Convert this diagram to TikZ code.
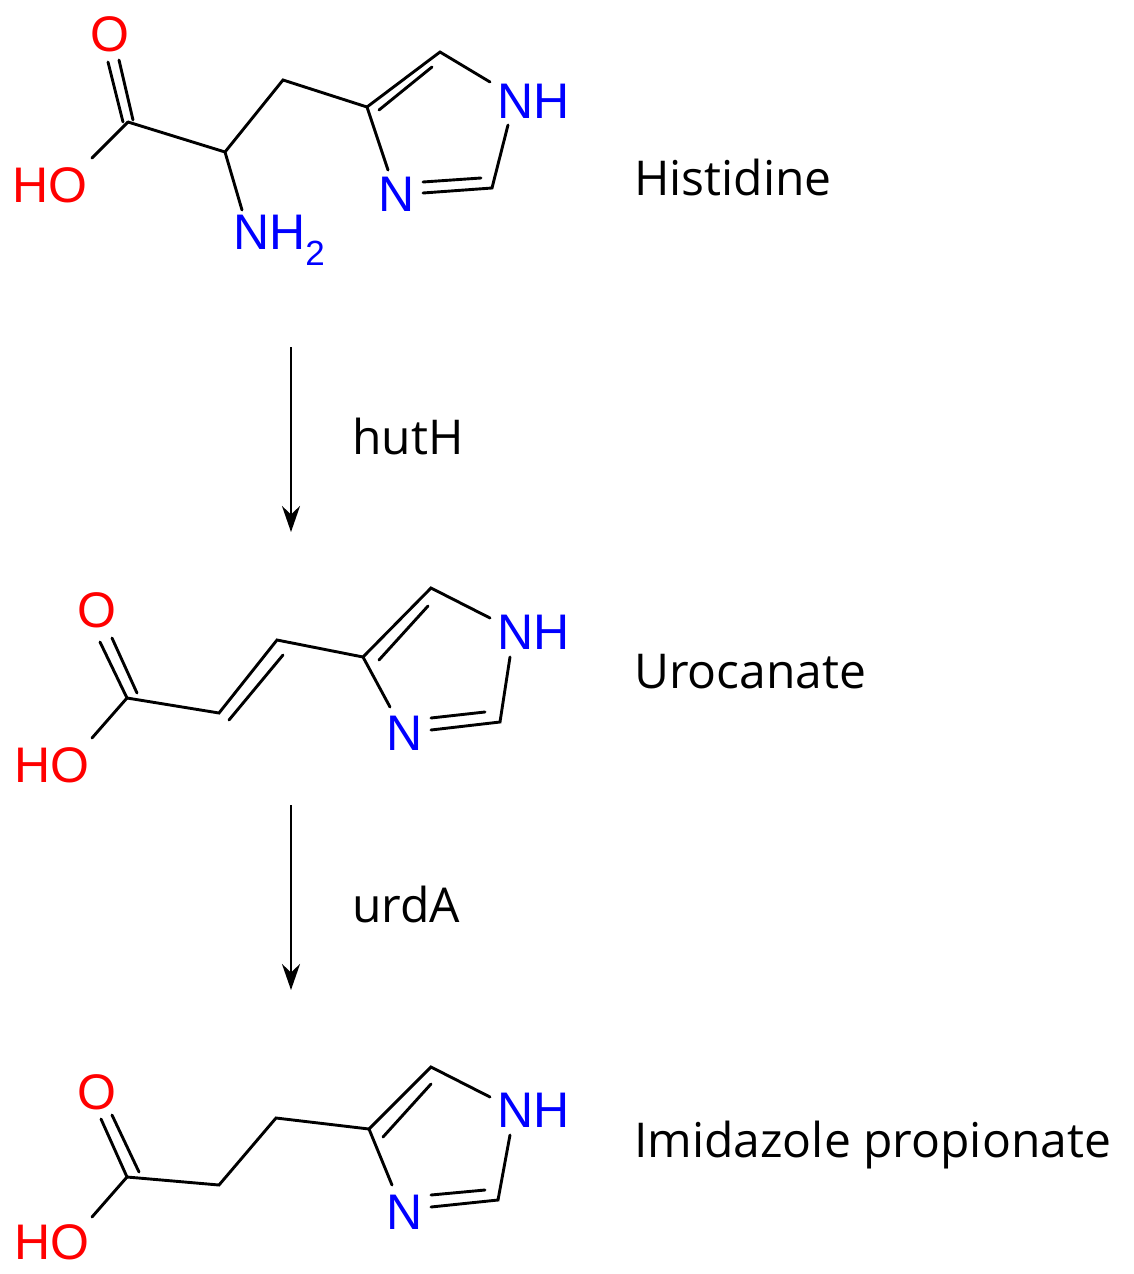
\documentclass[tikz,border=0pt]{standalone}
\usepackage{fontspec}
\setmainfont{Liberation Sans}
\newfontfamily\lblfont{Open Sans}
\usetikzlibrary{arrows.meta}
\definecolor{ored}{RGB}{255,0,0}
\definecolor{nblue}{RGB}{0,0,255}
\begin{document}
\begin{tikzpicture}[x=1pt,y=-1pt,
  bond/.style={line width=2.9pt,line cap=round},
  atomO/.style={text=ored,font=\fontsize{50}{50}\selectfont,inner sep=0pt},
  atomN/.style={text=nblue,font=\fontsize{50}{50}\selectfont,inner sep=0pt},
  lbl/.style={font=\lblfont\fontsize{48}{48}\selectfont,inner sep=0pt,anchor=west},
  rxn/.style={line width=2.4pt,-{Stealth[length=26pt,width=18pt]}}]
\useasboundingbox (0,0) rectangle (1134,1274);
% ---------- Histidine
\node[atomO] (h-O) at (110,34) {O};
\node[atomO] (h-HO) at (50,185) {HO};
\node[atomN,anchor=west] (h-NH2) at (233,240) {NH\textsubscript{2}};
\node[atomN,anchor=west] (h-NH) at (497,101) {NH};
\node[atomN] (h-N) at (397,194) {N};
\draw[bond] (123,122)--(108,62) (133,120)--(119,60);
\draw[bond] (128,122)--(92,158);
\draw[bond] (128,122)--(225,152)--(242,210);
\draw[bond] (225,152)--(283,80)--(367,107)--(440,52)--(490,82);
\draw[bond] (379,110)--(432,67);
\draw[bond] (508,125)--(492,188)--(423,193);
\draw[bond] (423,182)--(481,178);
\draw[bond] (367,107)--(388,170);
\node[lbl] (h-lab) at (634,177) {Histidine};
% ---------- arrow 1
\coordinate (a1s) at (291,347);
\coordinate (a1e) at (291,532);
\draw[rxn] (a1s)--(a1e);
\node[lbl] (e1) at (352,436) {hutH};
% ---------- Urocanate
\node[atomO] (u-O) at (97,610) {O};
\node[atomO] (u-HO) at (52,765) {HO};
\node[atomN,anchor=west] (u-NH) at (497,632) {NH};
\node[atomN] (u-N) at (405,733) {N};
\draw[bond] (127,698)--(100,642) (137,693)--(112,638);
\draw[bond] (127,698)--(92,738);
\draw[bond] (127,698)--(219,713)--(277,640)--(363,657)--(431,588)--(490,618);
\draw[bond] (229,720)--(283,655);
\draw[bond] (379,660)--(428,606);
\draw[bond] (510,657)--(500,722)--(431,730);
\draw[bond] (431,718)--(485,712);
\draw[bond] (363,657)--(390,707);
\node[lbl] (u-lab) at (634,672) {Urocanate};
% ---------- arrow 2
\coordinate (a2s) at (291,805);
\coordinate (a2e) at (291,990);
\draw[rxn] (a2s)--(a2e);
\node[lbl] (e2) at (352,904) {urdA};
% ---------- Imidazole propionate
\node[atomO] (p-O) at (97,1092) {O};
\node[atomO] (p-HO) at (52,1242) {HO};
\node[atomN,anchor=west] (p-NH) at (497,1110) {NH};
\node[atomN] (p-N) at (405,1212) {N};
\draw[bond] (127,1177)--(101,1119) (139,1172)--(112,1115);
\draw[bond] (127,1177)--(92,1217);
\draw[bond] (127,1177)--(219,1185)--(276,1118)--(369,1129)--(431,1067)--(490,1097);
\draw[bond] (383,1137)--(431,1084);
\draw[bond] (510,1135)--(498,1200)--(431,1207);
\draw[bond] (431,1195)--(485,1190);
\draw[bond] (369,1129)--(392,1185);
\node[lbl] (p-lab) at (634,1145) {Imidazole propionate};
\end{tikzpicture}
\end{document}
